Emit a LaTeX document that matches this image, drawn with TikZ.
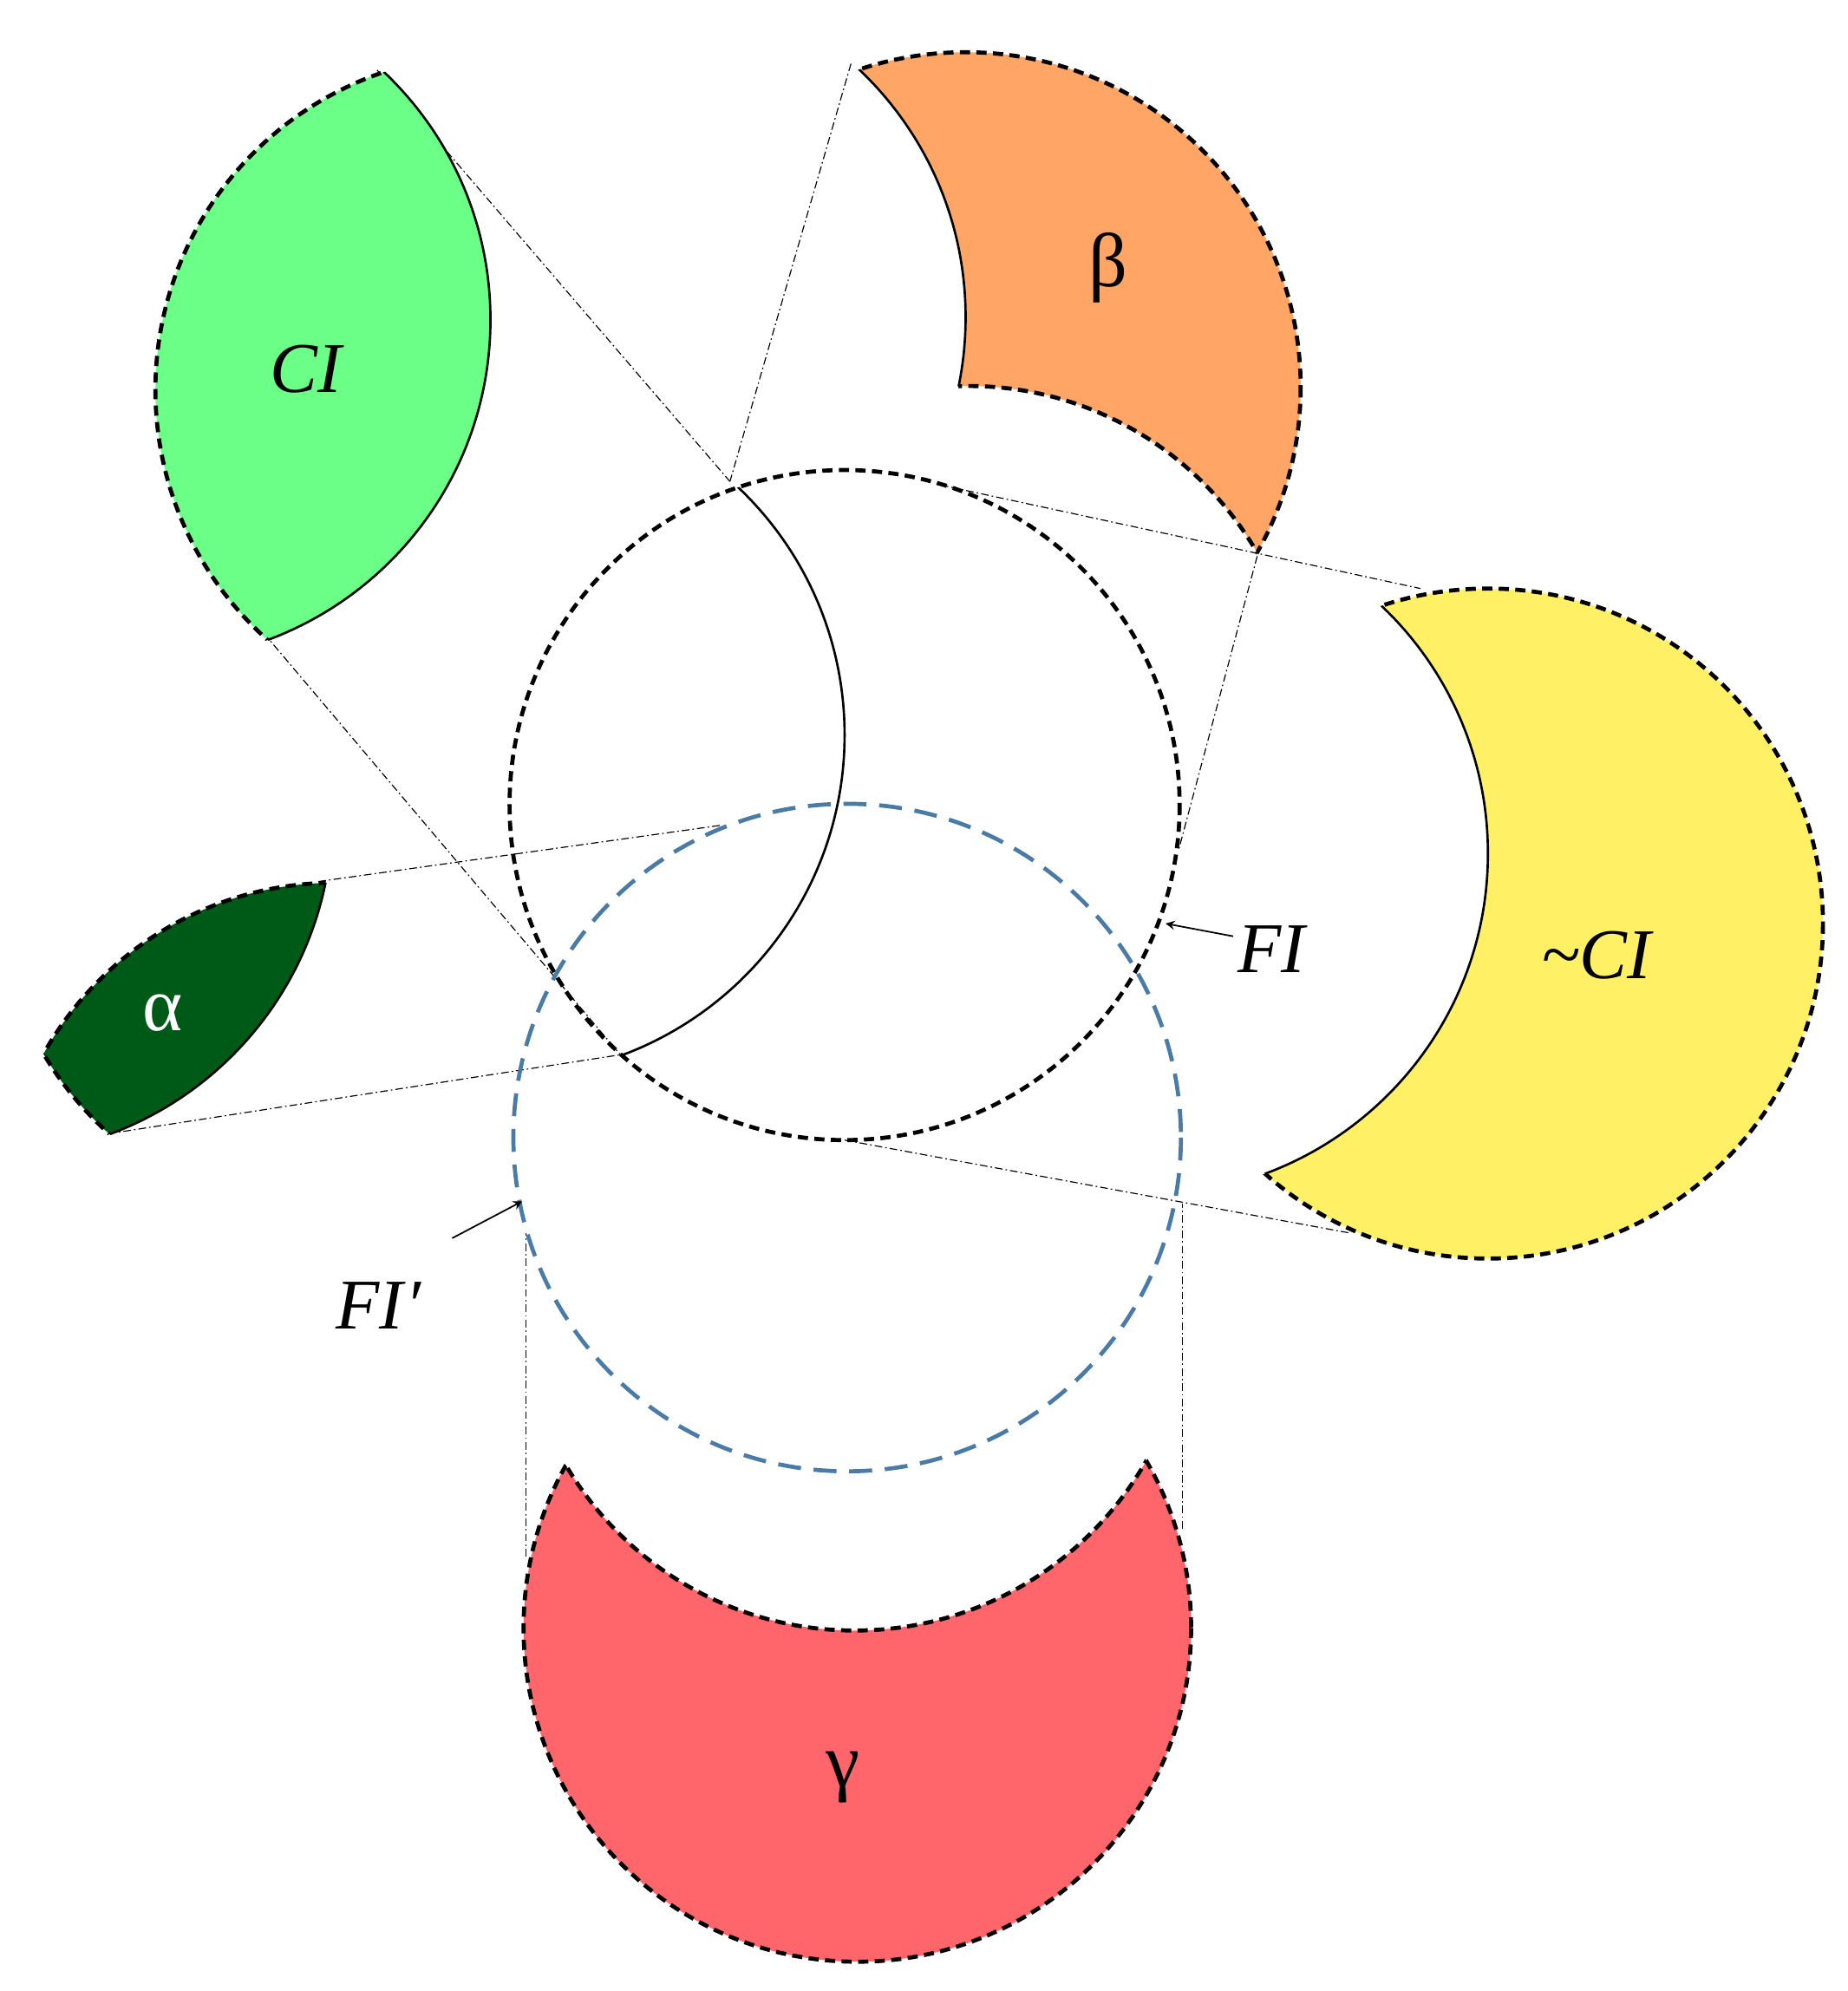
\documentclass[tikz,border=0pt]{standalone}
\usepackage{fontspec}
\setmainfont{Liberation Serif}
\begin{document}
\begin{tikzpicture}[x=0.5pt,y=-0.5pt,
  bd/.style={line width=1.6pt,dash pattern=on 4pt off 2.5pt},
  sol/.style={line width=0.9pt},
  conn/.style={line width=0.4pt,dash pattern=on 3pt off 1.2pt on 0.6pt off 1.2pt},
  lab/.style={font=\fontsize{28}{30}\selectfont\itshape},
  glab/.style={font=\fontsize{30}{32}\selectfont}]
\useasboundingbox (0,0) rectangle (1450,1563);
\def\FI{(663,632) circle (263)}
\def\CC{(395,577) circle (268)}
\def\FIp{(665,893) circle (262)}
\def\outside#1{\clip (-3000,-3000) rectangle (5000,5000) #1;}
\definecolor{cgreen}{HTML}{6BFF88}
\definecolor{corange}{HTML}{FFA566}
\definecolor{cyellow}{HTML}{FFF066}
\definecolor{cdark}{HTML}{005A17}
\definecolor{cred}{HTML}{FF666B}
\definecolor{cblue}{HTML}{4A7BA6}
% connectors
\coordinate (ci1) at (296,55); \coordinate (o1) at (573,378);
\coordinate (ci2) at (207,497); \coordinate (o2) at (487,828);
\coordinate (b1) at (668,50); \coordinate (b2) at (990,425); \coordinate (fr) at (925,668);
\coordinate (y1) at (1115,462); \coordinate (ft) at (735,380);
\coordinate (y2) at (1060,968); \coordinate (fb) at (663,895);
\coordinate (a1) at (250,692); \coordinate (p1) at (565,648);
\coordinate (a2) at (85,890);
\coordinate (g1) at (413,1222); \coordinate (q1) at (413,968);
\coordinate (g2) at (928,1200); \coordinate (q2) at (928,945);
\draw[conn] (ci1)--(o1) (ci2)--(o2);
\draw[conn] (b1)--(o1) (b2)--(fr);
\draw[conn] (ft)--(y1) (fb)--(y2);
\draw[conn] (a1)--(p1) (a2)--(o2);
\draw[conn] (g1)--(q1) (g2)--(q2);
% main circles
\draw[bd] \FI;
\draw[cblue,line width=1.6pt,dash pattern=on 9pt off 5pt] \FIp;
\begin{scope}\clip \FI; \draw[sol] \CC; \end{scope}
% CI
\begin{scope}[shift={(-278,-326)}]
 \begin{scope}\clip \FI; \fill[cgreen] \CC; \end{scope}
 \begin{scope}\clip \CC; \draw[bd] \FI; \end{scope}
 \begin{scope}\clip \FI; \draw[sol] \CC; \end{scope}
\end{scope}
% beta
\begin{scope}[shift={(95,-328)}]
 \begin{scope}[even odd rule]\outside{\CC}\outside{\FIp}\fill[corange] \FI; \draw[bd] \FI; \end{scope}
 \begin{scope}[even odd rule]\clip \FI; \outside{\FIp}\draw[sol] \CC; \end{scope}
 \begin{scope}[even odd rule]\clip \FI; \outside{\CC}\draw[bd] \FIp; \end{scope}
\end{scope}
% ~CI
\begin{scope}[shift={(505,93)}]
 \begin{scope}[even odd rule]\outside{\CC}\fill[cyellow] \FI; \draw[bd] \FI; \end{scope}
 \begin{scope}\clip \FI; \draw[sol] \CC; \end{scope}
\end{scope}
% alpha
\begin{scope}[shift={(-402,62)}]
 \begin{scope}\clip \FI; \clip \CC; \fill[cdark] \FIp; \end{scope}
 \begin{scope}\clip \CC; \clip \FIp; \draw[bd] \FI; \end{scope}
 \begin{scope}\clip \CC; \clip \FI; \draw[bd] \FIp; \end{scope}
 \begin{scope}\clip \FI; \clip \FIp; \draw[sol] \CC; \end{scope}
\end{scope}
% gamma
\begin{scope}[shift={(8,385)}]
 \begin{scope}[even odd rule]\outside{\FI}\fill[cred] \FIp; \draw[bd] \FIp; \end{scope}
 \begin{scope}\clip \FIp; \draw[bd] \FI; \end{scope}
\end{scope}
% labels
\node[lab] (lci) at (240,290) {CI};
\node[glab] (lb) at (870,210) {β};
\node[lab] (lnci) at (1253,750) {\char`\~CI};
\node[glab,white] (la) at (128,795) {α};
\node[glab] (lg) at (662,1395) {γ};
\node[lab] (lfi) at (998,745) {FI};
\node[lab] (lfip) at (297,1025) {FI\kern1pt′};
\coordinate (fiarr) at (915,725);
\coordinate (fiparr) at (410,943);
\draw[line width=0.6pt,-stealth] (968,735) -- (fiarr);
\draw[line width=0.6pt,-stealth] (355,972) -- (fiparr);
\end{tikzpicture}
\end{document}
